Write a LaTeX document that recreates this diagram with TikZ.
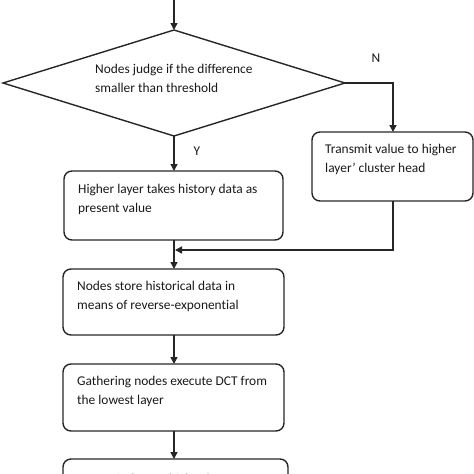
\documentclass[tikz,border=0pt]{standalone}
\usepackage{fontspec}
\setmainfont{Carlito}[Ligatures=NoCommon]
\usetikzlibrary{arrows.meta}
\begin{document}
\begin{tikzpicture}[x=1pt,y=-1pt,
  line/.style={line width=1.4pt,draw=black!85},
  arr/.style={line,-{Triangle[length=7pt,width=7pt]}},
  box/.style={line,rounded corners=8pt},
  lbl/.style={inner sep=0pt,anchor=base west,align=left,font=\fontsize{13.4}{19}\selectfont,text=black!90},
  yn/.style={inner sep=0pt,font=\fontsize{13.4}{14}\selectfont,text=black!90}]
\useasboundingbox (0,0) rectangle (474,474);
% decision
\coordinate (dtop) at (174,30);
\coordinate (dleft) at (3,83);
\coordinate (dright) at (345,83);
\coordinate (dbot) at (174,136);
\coordinate (start) at (174,-2);
\draw[line] (dtop) -- (dright) -- (dbot) -- (dleft) -- cycle;
\node[lbl] (dtext) at (95,92) {Nodes judge if the difference\\smaller than threshold};
% boxes
\draw[box] (312,132) rectangle (473,201);
\coordinate (b2top) at (393,132);
\coordinate (b2bot) at (393,201);
\node[lbl] (t2) at (325,172) {Transmit value to higher\\layer' cluster head};
\draw[box] (64,171) rectangle (283,240);
\coordinate (b1top) at (174,171);
\coordinate (b1bot) at (174,240);
\node[lbl] (t1) at (78,212) {Higher layer takes history data as\\present value};
\draw[box] (63,269) rectangle (284,335);
\coordinate (b3top) at (174,269);
\coordinate (b3bot) at (174,335);
\node[lbl] (t3) at (77,309) {Nodes store historical data in\\means of reverse-exponential};
\draw[box] (63,364) rectangle (284,431);
\coordinate (b4top) at (174,364);
\coordinate (b4bot) at (174,431);
\node[lbl] (t4) at (77,404) {Gathering nodes execute DCT from\\the lowest layer};
\draw[box] (63,459) rectangle (288,530);
\coordinate (b5top) at (174,459);
\node[lbl] (t5) at (77,483) {Transmit data to higher layer};
% connectors
\draw[arr] (start) -- (dtop);
\draw[arr] (dbot) -- (b1top);
\draw[arr] (dright) -- (393,83) -- (b2top);
\draw[arr] (b1bot) -- (b3top);
\draw[arr] (b2bot) -- (393,250) -- (175,250);
\draw[arr] (b3bot) -- (b4top);
\draw[arr] (b4bot) -- (b5top);
\node[yn] (N) at (376,58) {N};
\node[yn] (Y) at (197,151) {Y};
\end{tikzpicture}
\end{document}
